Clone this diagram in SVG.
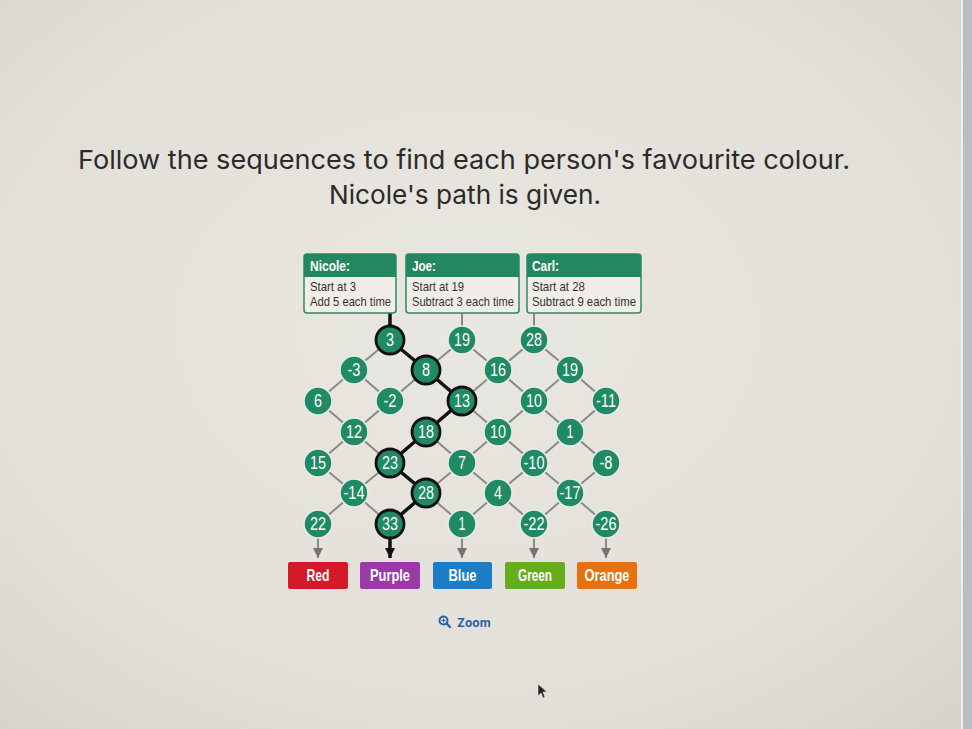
<svg xmlns="http://www.w3.org/2000/svg" width="972" height="729" viewBox="0 0 972 729">
<defs>
<radialGradient id="bg" cx="0.48" cy="0.45" r="0.75">
<stop offset="0" stop-color="#e9e7e1"/>
<stop offset="0.7" stop-color="#e2dfd8"/>
<stop offset="1" stop-color="#d7d3cc"/>
</radialGradient>
<marker id="ag" viewBox="0 0 10 10" refX="10" refY="5" markerWidth="10" markerHeight="10" markerUnits="userSpaceOnUse" orient="auto">
<path d="M0,0 L10,5 L0,10 Z" fill="#747474"/>
</marker>
<marker id="ak" viewBox="0 0 10 10" refX="10" refY="5" markerWidth="10" markerHeight="10" markerUnits="userSpaceOnUse" orient="auto">
<path d="M0,0 L10,5 L0,10 Z" fill="#111"/>
</marker>
<style>
.t{font-family:"Inter","Open Sans",sans-serif;font-size:26px;fill:#2b2b2b;text-anchor:middle}
.e{stroke:#8a8a8a;stroke-width:2;fill:none}
.p{stroke:#111;stroke-width:3.5;fill:none}
.n circle{fill:#1f8a64;stroke:#e9ece6;stroke-width:1.5}
.n.b circle{stroke:#111;stroke-width:2.8}
.n text{font-family:"Liberation Sans",sans-serif;font-size:18px;fill:#fff;text-anchor:middle;dominant-baseline:central}
.hb{fill:#f0eee6;stroke:#2a8a63;stroke-width:1.5}
.hh{fill:#23875f}
.ht{font-family:"Liberation Sans",sans-serif;font-weight:bold;font-size:15px;fill:#fff}
.hx{font-family:"Liberation Sans",sans-serif;font-size:13px;fill:#333}
.c text{font-family:"Liberation Sans",sans-serif;font-weight:bold;font-size:17px;fill:#fff;text-anchor:middle;dominant-baseline:central}
</style>
</defs>
<rect width="972" height="729" fill="url(#bg)"/>
<rect x="963" y="0" width="9" height="729" fill="#babdc1"/>
<rect x="961" y="0" width="2" height="729" fill="#efeeea"/>

<text class="t" x="464" y="169" textLength="772" lengthAdjust="spacingAndGlyphs">Follow the sequences to find each person's favourite colour.</text>
<text class="t" x="465" y="204" textLength="272" lengthAdjust="spacingAndGlyphs">Nicole's path is given.</text>

<g id="connectors">
<path class="e" d="M462,313 V340 M534,313 V340"/>
<path class="e" d="M390,340 L354,370 L318,401 L354,432 L318,463 L354,493 L318,524"/>
<path class="e" d="M354,370 L390,401 L354,432 L390,463 L354,493 L390,524"/>
<path class="e" d="M426,370 L390,401 M426,432 L462,463 L426,493 M462,524 L426,493"/>
<path class="e" d="M462,340 L426,370 M462,340 L498,370 L462,401 M498,370 L534,401 L498,432 L462,463 M462,401 L498,432 L534,463 L498,493 L462,524 M462,463 L498,493 L534,524"/>
<path class="e" d="M534,340 L498,370 M534,340 L570,370 L534,401 M570,370 L606,401 L570,432 L534,401 M570,432 L534,463 L570,493 L534,524 M570,432 L606,463 L570,493 L606,524"/>
<path class="p" d="M390,313 V340 L426,370 L462,401 L426,432 L390,463 L426,493 L390,524"/>
<path class="e" marker-end="url(#ag)" d="M318,538 V558"/>
<path class="p" stroke-width="2.5" marker-end="url(#ak)" d="M390,538 V558"/>
<path class="e" marker-end="url(#ag)" d="M462,538 V558"/>
<path class="e" marker-end="url(#ag)" d="M534,538 V558"/>
<path class="e" marker-end="url(#ag)" d="M606,538 V558"/>
</g>

<g id="box-nicole">
<rect class="hb" x="304" y="254" width="92" height="59" rx="3"/>
<path class="hh" d="M304,257 a3,3 0 0 1 3,-3 h86 a3,3 0 0 1 3,3 v20 h-92 z"/>
<text class="ht" x="310" y="271" textLength="40" lengthAdjust="spacingAndGlyphs">Nicole:</text>
<text class="hx" x="310" y="291" textLength="46" lengthAdjust="spacingAndGlyphs">Start at 3</text>
<text class="hx" x="310" y="305.5" textLength="81" lengthAdjust="spacingAndGlyphs">Add 5 each time</text>
</g>
<g id="box-joe">
<rect class="hb" x="406" y="254" width="113" height="59" rx="3"/>
<path class="hh" d="M406,257 a3,3 0 0 1 3,-3 h107 a3,3 0 0 1 3,3 v20 h-113 z"/>
<text class="ht" x="412" y="271" textLength="24" lengthAdjust="spacingAndGlyphs">Joe:</text>
<text class="hx" x="412" y="291" textLength="52" lengthAdjust="spacingAndGlyphs">Start at 19</text>
<text class="hx" x="412" y="305.5" textLength="102" lengthAdjust="spacingAndGlyphs">Subtract 3 each time</text>
</g>
<g id="box-carl">
<rect class="hb" x="527" y="254" width="114" height="59" rx="3"/>
<path class="hh" d="M527,257 a3,3 0 0 1 3,-3 h108 a3,3 0 0 1 3,3 v20 h-114 z"/>
<text class="ht" x="532" y="271" textLength="27" lengthAdjust="spacingAndGlyphs">Carl:</text>
<text class="hx" x="532" y="291" textLength="53" lengthAdjust="spacingAndGlyphs">Start at 28</text>
<text class="hx" x="532" y="305.5" textLength="104" lengthAdjust="spacingAndGlyphs">Subtract 9 each time</text>
</g>

<g id="n-r0-3" class="n b"><circle cx="390" cy="340" r="14"/><text x="390" y="340" textLength="8" lengthAdjust="spacingAndGlyphs">3</text></g>
<g id="n-r0-19" class="n"><circle cx="462" cy="340" r="14"/><text x="462" y="340" textLength="16" lengthAdjust="spacingAndGlyphs">19</text></g>
<g id="n-r0-28" class="n"><circle cx="534" cy="340" r="14"/><text x="534" y="340" textLength="16" lengthAdjust="spacingAndGlyphs">28</text></g>
<g id="n-r1-m3" class="n"><circle cx="354" cy="370" r="14"/><text x="354" y="370" textLength="13" lengthAdjust="spacingAndGlyphs">-3</text></g>
<g id="n-r1-8" class="n b"><circle cx="426" cy="370" r="14"/><text x="426" y="370" textLength="8" lengthAdjust="spacingAndGlyphs">8</text></g>
<g id="n-r1-16" class="n"><circle cx="498" cy="370" r="14"/><text x="498" y="370" textLength="16" lengthAdjust="spacingAndGlyphs">16</text></g>
<g id="n-r1-19" class="n"><circle cx="570" cy="370" r="14"/><text x="570" y="370" textLength="16" lengthAdjust="spacingAndGlyphs">19</text></g>
<g id="n-r2-6" class="n"><circle cx="318" cy="401" r="14"/><text x="318" y="401" textLength="8" lengthAdjust="spacingAndGlyphs">6</text></g>
<g id="n-r2-m2" class="n"><circle cx="390" cy="401" r="14"/><text x="390" y="401" textLength="13" lengthAdjust="spacingAndGlyphs">-2</text></g>
<g id="n-r2-13" class="n b"><circle cx="462" cy="401" r="14"/><text x="462" y="401" textLength="16" lengthAdjust="spacingAndGlyphs">13</text></g>
<g id="n-r2-10" class="n"><circle cx="534" cy="401" r="14"/><text x="534" y="401" textLength="16" lengthAdjust="spacingAndGlyphs">10</text></g>
<g id="n-r2-m11" class="n"><circle cx="606" cy="401" r="14"/><text x="606" y="401" textLength="20" lengthAdjust="spacingAndGlyphs">-11</text></g>
<g id="n-r3-12" class="n"><circle cx="354" cy="432" r="14"/><text x="354" y="432" textLength="16" lengthAdjust="spacingAndGlyphs">12</text></g>
<g id="n-r3-18" class="n b"><circle cx="426" cy="432" r="14"/><text x="426" y="432" textLength="16" lengthAdjust="spacingAndGlyphs">18</text></g>
<g id="n-r3-10" class="n"><circle cx="498" cy="432" r="14"/><text x="498" y="432" textLength="16" lengthAdjust="spacingAndGlyphs">10</text></g>
<g id="n-r3-1" class="n"><circle cx="570" cy="432" r="14"/><text x="570" y="432" textLength="7" lengthAdjust="spacingAndGlyphs">1</text></g>
<g id="n-r4-15" class="n"><circle cx="318" cy="463" r="14"/><text x="318" y="463" textLength="16" lengthAdjust="spacingAndGlyphs">15</text></g>
<g id="n-r4-23" class="n b"><circle cx="390" cy="463" r="14"/><text x="390" y="463" textLength="16" lengthAdjust="spacingAndGlyphs">23</text></g>
<g id="n-r4-7" class="n"><circle cx="462" cy="463" r="14"/><text x="462" y="463" textLength="8" lengthAdjust="spacingAndGlyphs">7</text></g>
<g id="n-r4-m10" class="n"><circle cx="534" cy="463" r="14"/><text x="534" y="463" textLength="21" lengthAdjust="spacingAndGlyphs">-10</text></g>
<g id="n-r4-m8" class="n"><circle cx="606" cy="463" r="14"/><text x="606" y="463" textLength="13" lengthAdjust="spacingAndGlyphs">-8</text></g>
<g id="n-r5-m14" class="n"><circle cx="354" cy="493" r="14"/><text x="354" y="493" textLength="21" lengthAdjust="spacingAndGlyphs">-14</text></g>
<g id="n-r5-28" class="n b"><circle cx="426" cy="493" r="14"/><text x="426" y="493" textLength="16" lengthAdjust="spacingAndGlyphs">28</text></g>
<g id="n-r5-4" class="n"><circle cx="498" cy="493" r="14"/><text x="498" y="493" textLength="8" lengthAdjust="spacingAndGlyphs">4</text></g>
<g id="n-r5-m17" class="n"><circle cx="570" cy="493" r="14"/><text x="570" y="493" textLength="21" lengthAdjust="spacingAndGlyphs">-17</text></g>
<g id="n-r6-22" class="n"><circle cx="318" cy="524" r="14"/><text x="318" y="524" textLength="16" lengthAdjust="spacingAndGlyphs">22</text></g>
<g id="n-r6-33" class="n b"><circle cx="390" cy="524" r="14"/><text x="390" y="524" textLength="16" lengthAdjust="spacingAndGlyphs">33</text></g>
<g id="n-r6-1" class="n"><circle cx="462" cy="524" r="14"/><text x="462" y="524" textLength="7" lengthAdjust="spacingAndGlyphs">1</text></g>
<g id="n-r6-m22" class="n"><circle cx="534" cy="524" r="14"/><text x="534" y="524" textLength="21" lengthAdjust="spacingAndGlyphs">-22</text></g>
<g id="n-r6-m26" class="n"><circle cx="606" cy="524" r="14"/><text x="606" y="524" textLength="21" lengthAdjust="spacingAndGlyphs">-26</text></g>

<g id="c-red" class="c"><rect x="288" y="562" width="60" height="27" rx="2" fill="#d4192b"/><text x="318" y="575.5" textLength="23" lengthAdjust="spacingAndGlyphs">Red</text></g>
<g id="c-purple" class="c"><rect x="360" y="562" width="60" height="27" rx="2" fill="#9a3aa6"/><text x="390" y="575.5" textLength="40" lengthAdjust="spacingAndGlyphs">Purple</text></g>
<g id="c-blue" class="c"><rect x="433" y="562" width="59" height="27" rx="2" fill="#1d7cc6"/><text x="462.5" y="575.5" textLength="28" lengthAdjust="spacingAndGlyphs">Blue</text></g>
<g id="c-green" class="c"><rect x="505" y="562" width="60" height="27" rx="2" fill="#66ad1e"/><text x="535" y="575.5" textLength="34" lengthAdjust="spacingAndGlyphs">Green</text></g>
<g id="c-orange" class="c"><rect x="577" y="562" width="60" height="27" rx="2" fill="#e8710f"/><text x="607" y="575.5" textLength="45" lengthAdjust="spacingAndGlyphs">Orange</text></g>

<g id="zoom-link">
<circle cx="443.5" cy="620.5" r="4" fill="none" stroke="#2b5fa8" stroke-width="2"/>
<path d="M446.5,623.5 L450,627" stroke="#2b5fa8" stroke-width="2.4" stroke-linecap="round"/>
<path d="M441.5,620.5 h4 M443.5,618.5 v4" stroke="#2b5fa8" stroke-width="1.2"/>
<text x="457" y="627" font-family="Inter,'Open Sans',sans-serif" font-weight="bold" font-size="12" fill="#2b5fa8">Zoom</text>
</g>
<path d="M538,684 L538,696 L541,693 L543,698 L545,697 L543,692 L547,692 Z" fill="#222" stroke="#eee" stroke-width="0.6"/>
</svg>
